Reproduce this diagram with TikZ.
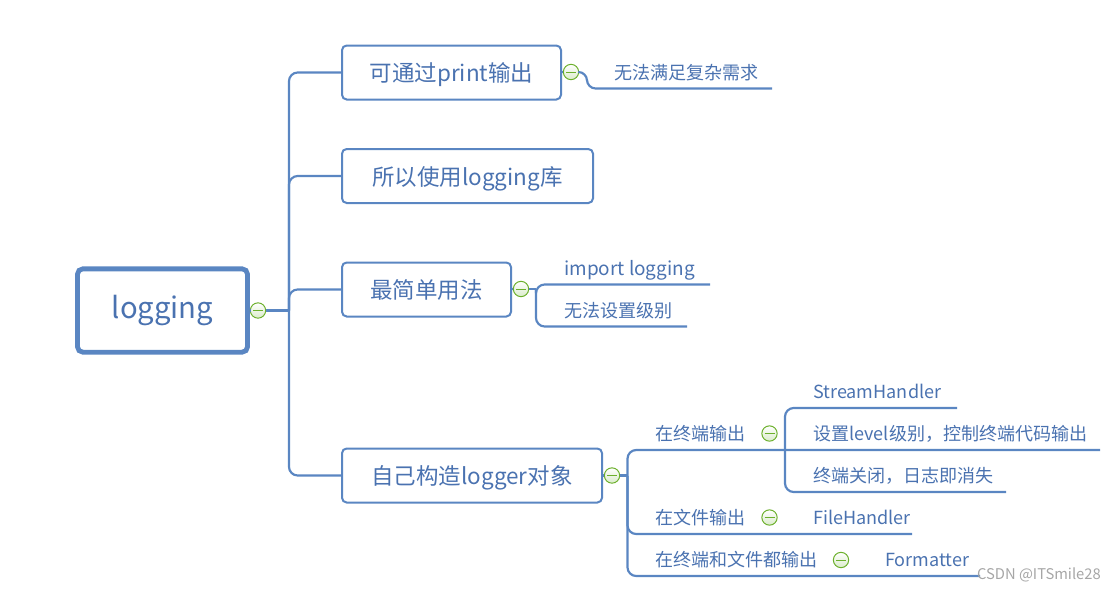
\documentclass[tikz,border=0pt]{standalone}
\usepackage{fontspec}
\setmainfont{Noto Sans CJK SC}
\usetikzlibrary{positioning,calc}
\definecolor{linecol}{HTML}{5A86C2}
\definecolor{textcol}{HTML}{4A72B0}
\definecolor{togglecol}{HTML}{6CB02C}

\begin{document}
\begin{tikzpicture}[
    x=0.3mm, y=-0.3mm,
    root/.style={rectangle, draw=linecol, line width=1.45mm, rounded corners=1.6mm, text=textcol, minimum width=51mm, minimum height=25mm, text height=6.6mm, text depth=1.9mm, font=\fontsize{25}{30}\selectfont},
    subject/.style={rectangle, draw=linecol, line width=0.6mm, rounded corners=1.4mm, text=textcol, minimum height=16.2mm, text height=6.4mm, text depth=1mm, font=\fontsize{19.2}{22}\selectfont},
    leaf/.style={anchor=west, inner sep=0pt, text=textcol, text height=4.9mm, text depth=0.9mm, font=\fontsize{15.4}{18}\selectfont},
    toggle/.style={circle, draw=togglecol, line width=0.3mm, top color=white, bottom color=togglecol!25, inner sep=0pt, minimum size=4.6mm,
        path picture={\draw[togglecol, line width=0.3mm] ($(path picture bounding box.west)+(0.8mm,0)$) -- ($(path picture bounding box.east)+(-0.8mm,0)$);}},
    branch/.style={draw=linecol, line width=0.65mm, rounded corners=2.6mm},
    trunk/.style={draw=linecol, line width=0.95mm},
    stamp/.style={text=gray!70, inner sep=0pt, font=\fontsize{12.6}{15}\selectfont}
]
\useasboundingbox (0,0) rectangle (1116,590);

% Root and subjects
\node[root] (logging) at (162.5,310.5) {logging};
\node[subject, minimum width=65.7mm] (printbox) at (451.5,72.5) {可通过print输出};
\node[subject, minimum width=75.3mm] (librarybox) at (467.5,176) {所以使用logging库};
\node[subject, minimum width=50.7mm] (simplebox) at (426.5,289.5) {最简单用法};
\node[subject, minimum width=78mm] (loggerbox) at (472,475.5) {自己构造logger对象};

% Toggles
\node[toggle] (rootmin) at (258,310.5) {};
\node[toggle] (printmin) at (571,72) {};
\node[toggle] (simplemin) at (521,289) {};
\node[toggle] (loggermin) at (612,475.5) {};
\node[toggle] (termmin) at (769.5,433.5) {};
\node[toggle] (filemin) at (769.5,517.5) {};
\node[toggle] (bothmin) at (841,560) {};

% Leaf texts
\node[leaf] (printleaf) at (614,72.5) {无法满足复杂需求};
\node[leaf, font=\fontsize{16.2}{18}\selectfont] (importleaf) at (564,269) {import logging};
\node[leaf] (levelleaf) at (564,311) {无法设置级别};
\node[leaf] (termleaf) at (655,433.5) {在终端输出};
\node[leaf] (fileleaf) at (655,517.5) {在文件输出};
\node[leaf] (bothleaf) at (655,559.5) {在终端和文件都输出};
\node[leaf] (streamleaf) at (813,391.5) {StreamHandler};
\node[leaf] (setleaf) at (813,433.5) {设置level级别，控制终端代码输出};
\node[leaf] (closeleaf) at (813,476) {终端关闭，日志即消失};
\node[leaf] (handlerleaf) at (813,517.5) {FileHandler};
\node[leaf] (formatleaf) at (885,559.5) {Formatter};

% Forks and line ends
\coordinate (rootfork) at (289,310.5);
\coordinate (printfork) at (587,72);
\coordinate (simplefork) at (536,289);
\coordinate (loggerfork) at (627.5,475.5);
\coordinate (termfork) at (785,450);
\coordinate (printend) at (772,88.5);
\coordinate (importend) at (710,284.5);
\coordinate (levelend) at (687,326.5);
\coordinate (termend) at (1100,450);
\coordinate (fileend) at (912,534);
\coordinate (bothend) at (980,576);
\coordinate (streamend) at (957,408);
\coordinate (closeend) at (1006,492);

% Connectors
\draw[trunk] (logging) -- (rootmin);
\draw[trunk] (rootmin) -- (rootfork);
\draw[branch] (rootfork) |- (printbox.west);
\draw[branch] (rootfork) |- (librarybox.west);
\draw[branch] (rootfork) |- (simplebox.west);
\draw[branch] (rootfork) |- (loggerbox.west);
\draw[trunk, line width=0.75mm] (rootfork) -- ++(0,-135);

\draw[branch] (printbox) -- (printmin);
\draw[branch] (printmin) -- (printfork) |- (printend);

\draw[branch] (simplebox) -- (simplemin);
\draw[branch] (simplemin) -- (simplefork);
\draw[branch] (simplefork) |- (importend);
\draw[branch] (simplefork) |- (levelend);

\draw[branch] (loggerbox) -- (loggermin);
\draw[branch] (loggermin) -- (loggerfork);
\draw[branch] (loggerfork) |- (termend);
\draw[branch] (loggerfork) |- (fileend);
\draw[branch] (loggerfork) |- (bothend);
\draw[branch] (termfork) |- (streamend);
\draw[branch] (termfork) |- (closeend);

% Watermark
\node[stamp, anchor=east] (csdn) at (1101,575) {CSDN @ITSmile28};

\end{tikzpicture}
\end{document}
